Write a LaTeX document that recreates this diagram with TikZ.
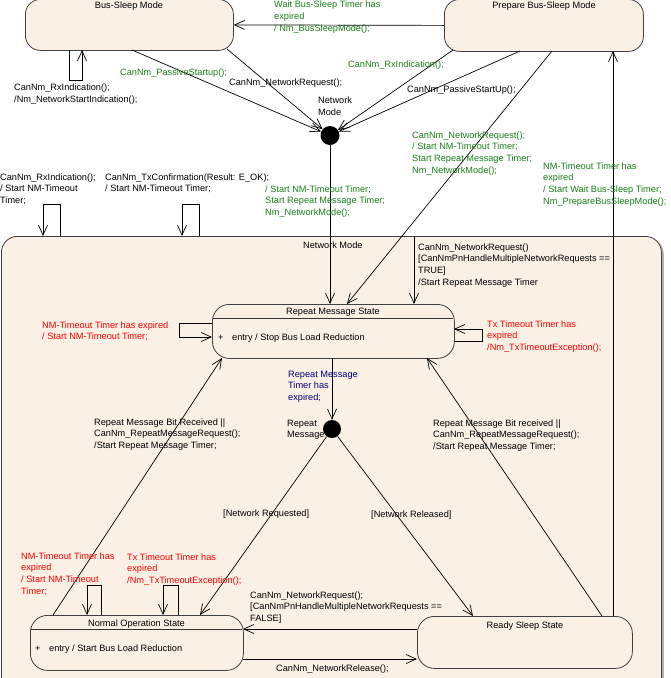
\documentclass[tikz,border=0pt]{standalone}
\usepackage{fontspec}
\setmainfont{Liberation Sans}
\usetikzlibrary{arrows.meta}
\definecolor{bg}{RGB}{250,240,227}
\definecolor{grn}{RGB}{25,128,25}
\definecolor{rd}{RGB}{255,0,0}
\definecolor{nv}{RGB}{0,0,128}
\begin{document}
\begin{tikzpicture}[x=1pt,y=-1pt,
  every node/.style={font=\fontsize{9.2}{11.6}\selectfont},
  lbl/.style={inner sep=0pt, anchor=north west, align=left},
  lblw/.style={inner sep=0pt, anchor=west},
  state/.style={draw=black!75, fill=bg, line width=0.8pt, rounded corners=16pt, anchor=north west, inner sep=0pt},
  tr/.style={draw=black, line width=0.7pt, -{Straight Barb[length=10pt,width=9pt]}},
  comp/.style={draw=black!80, line width=0.8pt},
  junc/.style={circle, fill=black, inner sep=0pt, minimum size=19pt}]
\useasboundingbox (0,0) rectangle (671,678);
\clip (0,0) rectangle (671,678);
\fill[white] (0,0) rectangle (671,678);

% Network Mode composite state
\node[state, draw=gray!60, fill=gray!60, minimum width=660pt, minimum height=480pt] (nmshadow) at (3,238) {};
\node[state, minimum width=660pt, minimum height=480pt] (nm) at (1,236) {};
\node[lblw] (nmtitle) at (303,245) {Network Mode};

% top states
\node[state, rounded corners=15pt, minimum width=208pt, minimum height=51pt] (bs) at (25,-1) {};
\node (bstitle) at (129,6) {Bus-Sleep Mode};
\node[state, rounded corners=15pt, minimum width=199pt, minimum height=52pt] (pbs) at (444,-1) {};
\node (pbstitle) at (544,6) {Prepare Bus-Sleep Mode};

% inner states
\node[state, rounded corners=17pt, minimum width=242pt, minimum height=54pt] (rms) at (212,304) {};
\draw[comp] (213,318) -- (453,318);
\node (rmstitle) at (333,312) {Repeat Message State};
\node[lblw] (rmsplus) at (218,338) {+};
\node[lblw] (rmsentry) at (232,338) {entry / Stop Bus Load Reduction};

\node[state, rounded corners=17pt, minimum width=213pt, minimum height=55pt] (nos) at (30,615) {};
\draw[comp] (31,629) -- (242,629);
\node (nostitle) at (136.5,624.5) {Normal Operation State};
\node[lblw] (nosplus) at (35,649) {+};
\node[lblw] (nosentry) at (49,649) {entry / Start Bus Load Reduction};

\node[state, rounded corners=17pt, minimum width=215pt, minimum height=52pt] (rss) at (417,616) {};
\node (rsstitle) at (525,626) {Ready Sleep State};

% junctions
\node[junc] (j1) at (330,135.5) {};
\node[junc, minimum size=18pt] (j2) at (332,429) {};

% attachment coordinates
\coordinate (bs1) at (132,50);
\coordinate (bs2) at (227,49);
\coordinate (p1) at (453,50);
\coordinate (p2) at (520,51);
\coordinate (p3) at (552,51);
\coordinate (p4) at (613,51);
\coordinate (rmt0) at (330,304);
\coordinate (rmt1) at (347,304);
\coordinate (rmt2) at (414,304);
\coordinate (nmt) at (414,236);
\coordinate (rst1) at (613,616);
\coordinate (rmb0) at (332,358);
\coordinate (rmb1) at (222,358);
\coordinate (rmb2) at (427,358);
\coordinate (not1) at (200,615);
\coordinate (not2) at (53,615);
\coordinate (rst2) at (473,616);
\coordinate (rst3) at (602,616);
\coordinate (rsw1) at (417,629);
\coordinate (noe1) at (243,629);
\coordinate (noe2) at (243,659);
\coordinate (rsw2) at (417,659);

% transitions
\draw[tr] (pbs.west) -- (bs.east);
\draw[tr] (bs1) -- (j1);
\draw[tr] (bs2) -- (j1);
\draw[tr] (p1) -- (j1);
\draw[tr] (p2) -- (j1);
\draw[tr] (j1) -- (rmt0);
\draw[tr] (p3) -- (rmt1);
\draw[tr] (nmt) -- (rmt2);
\draw[tr] (rst1) -- (p4);
\draw[tr] (rmb0) -- (j2);
\draw[tr] (j2) -- (not1);
\draw[tr] (j2) -- (rst2);
\draw[tr] (not2) -- (rmb1);
\draw[tr] (rst3) -- (rmb2);
\draw[tr] (rsw1) -- (noe1);
\draw[tr] (noe2) -- (rsw2);

% self loops
\coordinate (bsl1) at (69,50);
\coordinate (bsl2) at (82,50);
\draw[tr] (bsl1) -- (69,80) -- (82,80) -- (bsl2);
\coordinate (nml1) at (60,236);
\coordinate (nml2) at (43,236);
\draw[tr] (nml1) -- (60,204) -- (43,204) -- (nml2);
\coordinate (nml3) at (199,236);
\coordinate (nml4) at (182,236);
\draw[tr] (nml3) -- (199,204) -- (182,204) -- (nml4);
\coordinate (rml1) at (212,323);
\coordinate (rml2) at (212,337);
\draw[tr] (rml1) -- (179,323) -- (179,337) -- (rml2);
\coordinate (rmr1) at (454,341);
\coordinate (rmr2) at (454,329);
\draw[tr] (rmr1) -- (482,341) -- (482,329) -- (rmr2);
\coordinate (nol1) at (101,615);
\coordinate (nol2) at (87,615);
\draw[tr] (nol1) -- (101,585) -- (87,585) -- (nol2);
\coordinate (nol3) at (178,615);
\coordinate (nol4) at (163,615);
\draw[tr] (nol3) -- (178,585) -- (163,585) -- (nol4);

% labels
\node[lbl, text=grn] (l1) at (274,1) {Wait Bus-Sleep Timer has\\expired\\/ Nm\_BusSleepMode();};
\node[lbl] (l2) at (14,84) {CanNm\_RxIndication();\\/Nm\_NetworkStartIndication();};
\node[lbl, text=grn] (l3) at (120,68.5) {CanNm\_PassiveStartup();};
\node[lbl] (l4) at (229,78.5) {CanNm\_NetworkRequest();};
\node[lbl] (l5) at (318,97) {Network\\Mode};
\node[lbl, text=grn] (l6) at (348,61) {CanNm\_RxIndication();};
\node[lbl] (l7) at (407,86) {CanNm\_PassiveStartUp();};
\node[lbl] (l8) at (0,173.5) {CanNm\_RxIndication();\\/ Start NM-Timeout\\Timer;};
\node[lbl] (l9) at (105,173.5) {CanNm\_TxConfirmation(Result: E\_OK);\\/ Start NM-Timeout Timer;};
\node[lbl, text=grn] (l10) at (265,185.5) {/ Start NM-Timeout Timer;\\Start Repeat Message Timer;\\Nm\_NetworkMode();};
\node[lbl, text=grn] (l11) at (412,131.5) {CanNm\_NetworkRequest();\\/ Start NM-Timeout Timer;\\Start Repeat Message Timer;\\Nm\_NetworkMode();};
\node[lbl, text=grn] (l12) at (543,162.5) {NM-Timeout Timer has\\expired\\/ Start Wait Bus-Sleep Timer;\\Nm\_PrepareBusSleepMode();};
\node[lbl] (l13) at (418,243.5) {CanNm\_NetworkRequest()\\{}[CanNmPnHandleMultipleNetworkRequests ==\\TRUE]\\/Start Repeat Message Timer};
\node[lbl, text=rd] (l14) at (42,321.5) {NM-Timeout Timer has expired\\/ Start NM-Timeout Timer;};
\node[lbl, text=rd] (l15) at (487,320.5) {Tx Timeout Timer has\\expired\\/Nm\_TxTimeoutException();};
\node[lbl, text=nv] (l16) at (288,370.5) {Repeat Message\\Timer has\\expired;};
\node[lbl] (l17) at (287,419.5) {Repeat\\Message};
\node[lbl] (l18) at (94,418.5) {Repeat Message Bit Received ||\\CanNm\_RepeatMessageRequest();\\/Start Repeat Message Timer;};
\node[lbl] (l19) at (433,419.5) {Repeat Message Bit received ||\\CanNm\_RepeatMessageRequest();\\/Start Repeat Message Timer;};
\node[lblw] (l20) at (223,514) {[Network Requested]};
\node[lblw] (l21) at (371,515) {[Network Released]};
\node[lbl, text=rd] (l22) at (21,552.5) {NM-Timeout Timer has\\expired\\/ Start NM-Timeout\\Timer;};
\node[lbl, text=rd] (l23) at (127,553.5) {Tx Timeout Timer has\\expired\\/Nm\_TxTimeoutException();};
\node[lbl] (l24) at (250,591.5) {CanNm\_NetworkRequest();\\{}[CanNmPnHandleMultipleNetworkRequests ==\\FALSE]};
\node[lblw] (l25) at (276,669) {CanNm\_NetworkRelease();};
\end{tikzpicture}
\end{document}
